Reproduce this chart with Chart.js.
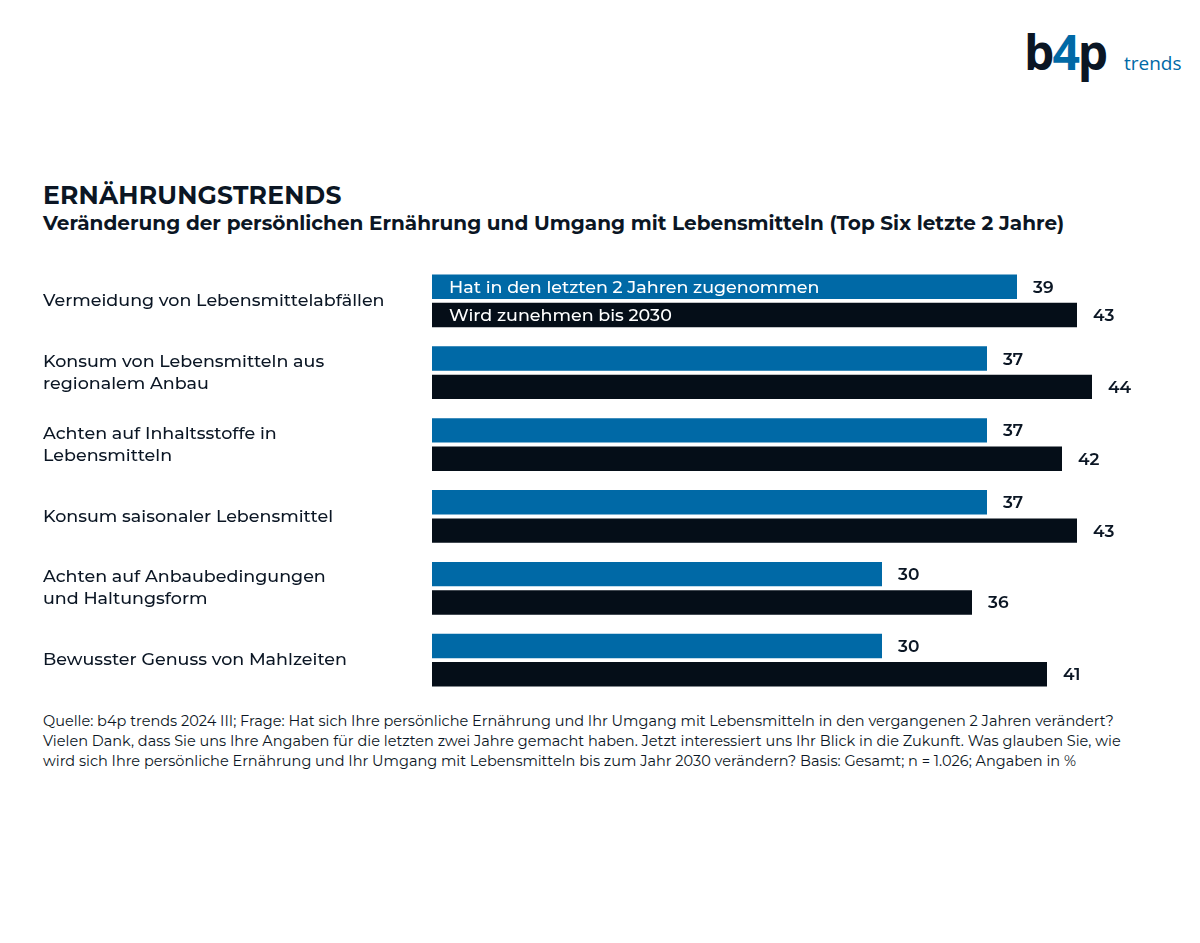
<!DOCTYPE html>
<html><head><meta charset="utf-8">
<script src="https://cdn.jsdelivr.net/npm/chart.js@4"></script>
<style>
body{margin:0;width:1200px;height:943px;background:#fff;font-family:"Montserrat","Open Sans",sans-serif;color:#0b1624;position:relative;overflow:hidden}
.t{position:absolute;left:43px;top:180px;font-size:25px;font-weight:700;letter-spacing:0.2px}
.s{position:absolute;left:43px;top:211px;font-size:20px;font-weight:700}
.f{position:absolute;left:43px;top:711px;font-size:14.5px;line-height:20px;width:1095px}
.logo{position:absolute;left:1024px;top:28px;font-family:"Open Sans",sans-serif}
.logo .b{font-size:48px;font-weight:700;color:#0b1624;letter-spacing:-2px;line-height:48px}
.logo .b span{color:#0069a6}
.logo .tr{position:absolute;left:100px;top:22px;font-size:19px;color:#0069a6}
#wrap{position:absolute;left:0;top:254px;width:1200px;height:453px}
</style></head><body>
<div class="logo"><div class="b">b<span>4</span>p</div><div class="tr">trends</div></div>
<div class="t">ERNÄHRUNGSTRENDS</div>
<div class="s">Veränderung der persönlichen Ernährung und Umgang mit Lebensmitteln (Top Six letzte 2 Jahre)</div>
<div id="wrap"><canvas id="c"></canvas></div>
<div class="f">Quelle: b4p trends 2024 III; Frage: Hat sich Ihre persönliche Ernährung und Ihr Umgang mit Lebensmitteln in den vergangenen 2 Jahren verändert? Vielen Dank, dass Sie uns Ihre Angaben für die letzten zwei Jahre gemacht haben. Jetzt interessiert uns Ihr Blick in die Zukunft. Was glauben Sie, wie wird sich Ihre persönliche Ernährung und Ihr Umgang mit Lebensmitteln bis zum Jahr 2030 verändern? Basis: Gesamt; n = 1.026; Angaben in %</div>
<script>
const categories=[["Vermeidung von Lebensmittelabfällen"],["Konsum von Lebensmitteln aus","regionalem Anbau"],["Achten auf Inhaltsstoffe in","Lebensmitteln"],["Konsum saisonaler Lebensmittel"],["Achten auf Anbaubedingungen","und Haltungsform"],["Bewusster Genuss von Mahlzeiten"]];
const seriesNames=["Hat in den letzten 2 Jahren zugenommen","Wird zunehmen bis 2030"];
const past=[39,37,37,37,30,30];
const future=[43,44,42,43,36,41];
const colors=["#0069a6","#050e18"];
const FONT='"Montserrat","Open Sans",sans-serif';
const labelsPlugin={id:'lbl',afterDatasetsDraw(ch){
 const ctx=ch.ctx;ctx.save();ctx.textBaseline='middle';
 ch.data.datasets.forEach((ds,i)=>{ch.getDatasetMeta(i).data.forEach((b,j)=>{
  ctx.fillStyle='#0b1624';ctx.font='600 17px '+FONT;ctx.textAlign='left';
  ctx.fillText(ds.data[j],b.x+16,b.y+1);
  if(j===0){ctx.fillStyle='#fff';ctx.font='500 17.5px '+FONT;ctx.fillText(ds.label,b.base+17,b.y+1);}
 });});ctx.restore();}};
new Chart(document.getElementById('c'),{type:'bar',
 data:{labels:categories,datasets:[
  {label:seriesNames[0],data:past,backgroundColor:colors[0]},
  {label:seriesNames[1],data:future,backgroundColor:colors[1]}]},
 options:{indexAxis:'y',responsive:true,maintainAspectRatio:false,animation:false,
  categoryPercentage:0.79,barPercentage:0.86,
  layout:{padding:{left:43,right:18,top:0,bottom:0}},
  plugins:{legend:{display:false},tooltip:{enabled:false}},
  scales:{x:{display:false,min:0,max:50},
   y:{grid:{display:false},border:{display:false},
    afterFit(s){s.width=389;},
    ticks:{crossAlign:'far',padding:0,color:'#0b1624',font:{family:FONT,size:17.5,weight:'500',lineHeight:1.25}}}}},
 plugins:[labelsPlugin]});
</script></body></html>
